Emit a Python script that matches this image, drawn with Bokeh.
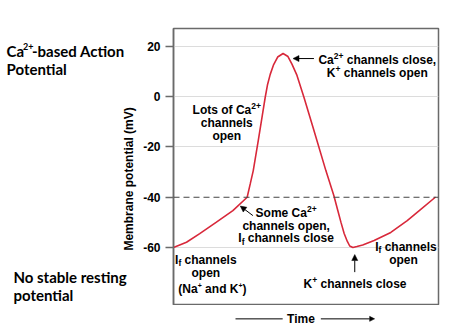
import math
from bokeh.plotting import figure
from bokeh.layouts import row, column
from bokeh.models import Range1d, FixedTicker, Label, Arrow, NormalHead, Span
from bokeh.embed import file_html
from bokeh.resources import INLINE

# ---- data (time in arbitrary units, membrane potential in mV) ----
time_au = [0, 4.9, 9.9, 16.2, 22.4, 27.8, 29.0, 30.1, 32.0, 33.5, 34.6, 35.5,
           36.5, 37.8, 39.3, 41.35, 43.2, 44.7, 46.6, 49.25, 53.0, 57.5, 60.5,
           62.0, 63.2, 64.4, 65.6, 66.5, 67.7, 69.2, 71.4, 75.7, 82.0, 88.2,
           93.2, 98.9]
potential_mv = [-60, -57.9, -54.5, -49.9, -45.3, -40.0, -34.5, -29.4, -17.4,
                -7.5, -0.3, 4.9, 8.9, 12.8, 15.8, 17.2, 16.0, 13.0, 8.5, -0.3,
                -13.4, -29.4, -39.3, -45.3, -50.0, -54.4, -57.6, -59.4, -60.0,
                -59.6, -59.0, -57.2, -54.0, -49.3, -44.9, -39.9]
y_ticks = [-60, -40, -20, 0, 20]
grid_ticks = [-60, -20, 0, 20]
threshold_mv = -40

RED = "#d8283a"
GRAY = "#6a6a6a"
FONT = "Liberation Sans"

x_rng = Range1d(0, 100)

# main chart
p = figure(width=334, height=305, title=None,
           x_range=x_rng, y_range=Range1d(-83.08, 27.16),
           output_backend="svg", toolbar_location=None,
           min_border_left=32, min_border_right=36,
           min_border_top=28, min_border_bottom=0)
# left notes panel (same vertical scale as the chart)
pl = figure(width=140, height=333, title=None,
            x_range=Range1d(-64.66, -12.03), y_range=Range1d(-94.22, 38.3),
            output_backend="svg", toolbar_location=None, min_border=0)
# bottom "Time" panel (shares the time scale)
pb = figure(width=334, height=28, title=None,
            x_range=x_rng, y_range=Range1d(-94.22, -83.08),
            output_backend="svg", toolbar_location=None,
            min_border_left=32, min_border_right=36,
            min_border_top=0, min_border_bottom=0)

for f in (pl, pb):
    f.axis.visible = False
    f.grid.visible = False
    f.outline_line_color = None
    f.background_fill_color = "white"
    f.border_fill_color = "white"

p.background_fill_color = "white"
p.border_fill_color = "white"
p.outline_line_color = GRAY
p.outline_line_width = 1.5

p.xaxis.visible = False
p.xgrid.visible = False

ax = p.yaxis[0]
ax.ticker = FixedTicker(ticks=y_ticks)
ax.major_label_overrides = {v: str(v) for v in y_ticks}
ax.major_tick_out = 8
ax.major_tick_in = 0
ax.minor_tick_out = 0
ax.minor_tick_in = 0
ax.axis_line_color = GRAY
ax.axis_line_width = 1.5
ax.major_tick_line_color = GRAY
ax.major_tick_line_width = 1.5
ax.major_label_text_font = FONT
ax.major_label_text_font_size = "12px"
ax.major_label_text_font_style = "bold"
ax.major_label_text_color = "black"
ax.major_label_standoff = 5

p.ygrid.ticker = FixedTicker(ticks=grid_ticks)
p.ygrid.grid_line_color = "#dcdcdc"
p.ygrid.grid_line_width = 1

p.add_layout(Span(location=threshold_mv, dimension="width", line_color="#444444",
                  line_dash="6 4", line_width=1))

p.line(time_au, potential_mv, line_color=RED, line_width=1.6)

# ---- text helpers ----
HB = {" ": 278, "!": 333, "(": 333, ")": 333, "+": 584, ",": 278, "-": 333,
      ".": 278, "A": 722, "C": 722, "I": 278, "K": 722, "L": 611, "M": 833,
      "N": 722, "P": 667, "S": 667, "T": 611, "V": 667,
      "a": 556, "b": 611, "c": 556, "d": 611, "e": 556, "f": 333, "g": 611,
      "h": 611, "i": 278, "k": 556, "l": 278, "m": 889, "n": 611, "o": 611,
      "p": 611, "r": 389, "s": 556, "t": 333, "u": 611, "v": 556, "w": 778}
for d in "0123456789":
    HB[d] = 556


def tw(s, size):
    return sum(HB.get(ch, 556) for ch in s) * size / 1000.0


def rich(fig, x, y, segs, dy=0, align="center", font=FONT, size=12, small=8.5,
         sup_dy=3.5, sub_dy=-3.5, widths=None):
    sizes = [size if m == "n" else small for _, m in segs]
    if widths is None:
        widths = [tw(t, s) for (t, _), s in zip(segs, sizes)]
    off = -sum(widths) / 2 if align == "center" else 0
    for (t, m), s, w in zip(segs, sizes, widths):
        lead = len(t) - len(t.lstrip(" "))
        txt = t.strip(" ")
        yo = dy + {"n": 0, "sup": sup_dy, "sub": sub_dy}[m]
        if txt:
            fig.add_layout(Label(x=x, y=y, x_offset=off + tw(" " * lead, s),
                                 y_offset=yo, text=txt, text_font=font,
                                 text_font_size=f"{s}px", text_font_style="bold",
                                 text_align="left", text_baseline="middle",
                                 text_color="black"))
        off += w


def arrow(fig, x0, y0, x1, y1, size=6):
    fig.add_layout(Arrow(end=NormalHead(size=size, fill_color="black",
                                        line_color="black", line_width=0.5),
                         x_start=x0, y_start=y0, x_end=x1, y_end=y1,
                         line_color="black", line_width=1))


# peak annotation
rich(p, 76.9, 14.8, [("Ca", "n"), ("2+", "sup"), (" channels close,", "n")])
rich(p, 76.9, 14.8, [("K", "n"), ("+", "sup"), (" channels open", "n")], dy=-13)
arrow(p, 53.0, 15.2, 45.1, 15.2)

# upstroke
rich(p, 20.1, -5.2, [("Lots of Ca", "n"), ("2+", "sup")])
rich(p, 20.1, -5.2, [("channels", "n")], dy=-13.3)
rich(p, 20.1, -5.2, [("open", "n")], dy=-26.4)

# threshold
rich(p, 42.5, -46.2, [("Some Ca", "n"), ("2+", "sup")])
rich(p, 42.5, -46.2, [("channels open,", "n")], dy=-12.7)
rich(p, 42.5, -46.2, [("I", "n"), ("f", "sub"), (" channels close", "n")], dy=-25.4)
arrow(p, 29.96, -47.3, 25.19, -43.5)

# pacemaker start
rich(p, 12.2, -64.8, [("I", "n"), ("f", "sub"), (" channels", "n")])
rich(p, 12.2, -64.8, [("open", "n")], dy=-13.3)
rich(p, 14.7, -76.4, [("(Na", "n"), ("+", "sup"), (" and K", "n"), ("+", "sup"), (")", "n")],
     small=7)

# repolarisation end
rich(p, 68.5, -74.4, [("K", "n"), ("+", "sup"), (" channels close", "n")])
arrow(p, 68.4, -69.8, 68.4, -62.8)

# pacemaker again
rich(p, 87.7, -59.6, [("I", "n"), ("f", "sub"), (" channels", "n")])
rich(p, 86.8, -59.6, [("open", "n")], dy=-13.3)

# left side notes
rich(pl, -62.4, 18.1, [("Ca", "n"), ("2+", "sup"), ("-based Action", "n")],
     align="left", font="Lato", size=15, small=9, sup_dy=4.5,
     widths=[16.5, 9, 88])
rich(pl, -62.4, 18.1, [("Potential", "n")], dy=-18, align="left", font="Lato", size=15)
rich(pl, -59.8, -71.9, [("No stable resting", "n")], align="left", font="Lato", size=15)
rich(pl, -59.8, -71.9, [("potential", "n")], dy=-17.3, align="left", font="Lato", size=15)

# axis titles
pl.add_layout(Label(x=-16.5, y=-32.7, text="Membrane potential (mV)",
                    angle=math.pi / 2, text_align="center", text_baseline="middle",
                    text_font=FONT, text_font_size="12px", text_font_style="bold",
                    text_color="black"))
pb.add_layout(Label(x=48.1, y=-88.4, text="Time", text_align="center",
                    text_baseline="middle", text_font=FONT, text_font_size="12px",
                    text_font_style="bold", text_color="black"))
pb.add_layout(Arrow(end=None, x_start=23.4, y_start=-88.4, x_end=41.2, y_end=-88.4,
                    line_color="black", line_width=1))
arrow(pb, 55.6, -88.4, 75.9, -88.4, size=5)

layout = row(pl, column(p, pb, spacing=0), spacing=0)
open("out.html", "w").write(file_html(layout, INLINE))
